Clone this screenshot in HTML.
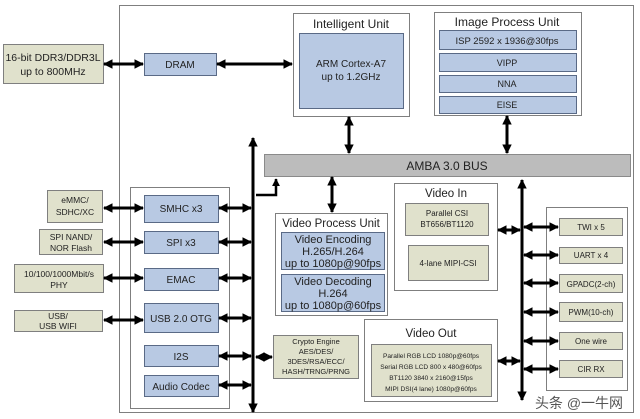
<!DOCTYPE html>
<html><head><meta charset="utf-8"><style>
html,body{margin:0;padding:0;background:#fff;}
svg{display:block;font-family:"Liberation Sans","Noto Sans CJK SC",sans-serif;}
</style></head><body>
<svg width="640" height="419" viewBox="0 0 640 419" xmlns="http://www.w3.org/2000/svg">
<defs>
<marker id="a" viewBox="0 0 10 10" refX="9" refY="5" markerWidth="3.2" markerHeight="3.2" orient="auto-start-reverse"><path d="M0,0L10,5L0,10z" fill="#000"/></marker>
</defs>
<g stroke="#7f7f7f" stroke-width="1" fill="#fff">
<rect x="119.5" y="5.5" width="514" height="407" />
<rect x="293.5" y="13.5" width="116" height="103"/>
<rect x="434.5" y="12.5" width="147" height="103"/>
<rect x="130.5" y="187.5" width="99" height="221"/>
<rect x="275.5" y="213.5" width="112" height="102"/>
<rect x="394.5" y="183.5" width="103" height="107"/>
<rect x="364.5" y="319.5" width="133" height="82"/>
<rect x="546.5" y="207.5" width="81" height="183"/>
</g>
<g stroke="#5a6a86" stroke-width="1" fill="#b8c9e3">
<rect x="144.5" y="53.5" width="72" height="22"/>
<rect x="299.5" y="33.5" width="104" height="75"/>
<rect x="439.5" y="30.5" width="137" height="19"/>
<rect x="439.5" y="53.5" width="137" height="18"/>
<rect x="439.5" y="75.5" width="137" height="17"/>
<rect x="439.5" y="96.5" width="137" height="17"/>
<rect x="144.5" y="195.5" width="74" height="27"/>
<rect x="144.5" y="231.5" width="74" height="22"/>
<rect x="144.5" y="268.5" width="74" height="22"/>
<rect x="144.5" y="303.5" width="74" height="29"/>
<rect x="144.5" y="345.5" width="74" height="21"/>
<rect x="144.5" y="375.5" width="74" height="21"/>
<rect x="281.5" y="232.5" width="103" height="37"/>
<rect x="281.5" y="274.5" width="103" height="37"/>
</g>
<g stroke="#7f7f7f" stroke-width="1" fill="#e0e1cc">
<rect x="3.5" y="44.5" width="100" height="39"/>
<rect x="47.5" y="190.5" width="55" height="32"/>
<rect x="39.5" y="229.5" width="63" height="25"/>
<rect x="14.5" y="264.5" width="89" height="28"/>
<rect x="14.5" y="310.5" width="88" height="21"/>
<rect x="273.5" y="335.5" width="85" height="43"/>
<rect x="405.5" y="203.5" width="83" height="32"/>
<rect x="408.5" y="245.5" width="80" height="35"/>
<rect x="371.5" y="344.5" width="120" height="52"/>
<rect x="559.5" y="218.5" width="63" height="17"/>
<rect x="559.5" y="247.5" width="63" height="16"/>
<rect x="559.5" y="274.5" width="63" height="18"/>
<rect x="559.5" y="302.5" width="63" height="19"/>
<rect x="559.5" y="332.5" width="63" height="17"/>
<rect x="559.5" y="360.5" width="63" height="17"/>
</g>
<rect x="264.5" y="154.5" width="366" height="22" fill="#bcbcbc" stroke="#8a8a8a"/>
<g stroke="#000" stroke-width="3" fill="none" marker-start="url(#a)" marker-end="url(#a)">
<line x1="104" y1="64" x2="143" y2="64"/>
<line x1="217" y1="64" x2="292" y2="64"/>
<line x1="349" y1="117" x2="349" y2="153"/>
<line x1="507" y1="116" x2="507" y2="153"/>
<line x1="253" y1="138" x2="253" y2="412"/>
<line x1="332" y1="177" x2="332" y2="212"/>
<line x1="104" y1="208" x2="143" y2="208"/>
<line x1="104" y1="242" x2="143" y2="242"/>
<line x1="104" y1="278" x2="143" y2="278"/>
<line x1="104" y1="320" x2="143" y2="320"/>
<line x1="219" y1="208" x2="251" y2="208"/>
<line x1="219" y1="242" x2="251" y2="242"/>
<line x1="219" y1="278" x2="251" y2="278"/>
<line x1="219" y1="318" x2="251" y2="318"/>
<line x1="219" y1="356" x2="251" y2="356"/>
<line x1="219" y1="385" x2="251" y2="385"/>
<line x1="256" y1="357" x2="272" y2="357"/>
<line x1="498" y1="230" x2="520" y2="230"/>
<line x1="498" y1="361" x2="520" y2="361"/>
<line x1="524" y1="227" x2="558" y2="227"/>
<line x1="524" y1="255" x2="558" y2="255"/>
<line x1="524" y1="283" x2="558" y2="283"/>
<line x1="524" y1="312" x2="558" y2="312"/>
<line x1="524" y1="341" x2="558" y2="341"/>
<line x1="524" y1="369" x2="558" y2="369"/>
</g>
<line x1="522" y1="400" x2="522" y2="180" stroke="#000" stroke-width="3" marker-start="url(#a)" marker-end="url(#a)"/>
<polyline points="256,195 276,195 276,179" stroke="#000" stroke-width="2.5" fill="none" marker-end="url(#a)"/>
<g font-size="10" fill="#222" text-anchor="middle">
<text x="53" y="61" font-size="10.5">16-bit DDR3/DDR3L</text>
<text x="53" y="75" font-size="10.5">up to 800MHz</text>
<text x="180" y="68">DRAM</text>
<text x="351" y="28" font-size="12">Intelligent Unit</text>
<text x="351" y="67">ARM Cortex-A7</text>
<text x="351" y="80">up to 1.2GHz</text>
<text x="507" y="26" font-size="12">Image Process Unit</text>
<text x="507" y="44" font-size="9.5">ISP 2592 x 1936@30fps</text>
<text x="507" y="66" font-size="9">VIPP</text>
<text x="507" y="87" font-size="9">NNA</text>
<text x="507" y="108" font-size="9">EISE</text>
<text x="447" y="170" font-size="12">AMBA 3.0 BUS</text>
<text x="75" y="203" font-size="8.5">eMMC/</text>
<text x="75" y="215" font-size="8.5">SDHC/XC</text>
<text x="71" y="240" font-size="8.5">SPI NAND/</text>
<text x="71" y="251" font-size="8.5">NOR Flash</text>
<text x="59" y="277" font-size="8.5">10/100/1000Mbit/s</text>
<text x="59" y="288" font-size="8.5">PHY</text>
<text x="58" y="319" font-size="8.5">USB/</text>
<text x="58" y="329" font-size="8.5">USB WIFI</text>
<text x="181" y="212">SMHC x3</text>
<text x="181" y="246">SPI x3</text>
<text x="181" y="283">EMAC</text>
<text x="181" y="322">USB 2.0 OTG</text>
<text x="181" y="360">I2S</text>
<text x="181" y="390">Audio Codec</text>
<text x="331" y="227" font-size="11.5">Video Process Unit</text>
<text x="333" y="243" font-size="11">Video Encoding</text>
<text x="333" y="255" font-size="11">H.265/H.264</text>
<text x="333" y="267" font-size="11">up to 1080p@90fps</text>
<text x="333" y="285" font-size="11">Video Decoding</text>
<text x="333" y="297" font-size="11">H.264</text>
<text x="333" y="309" font-size="11">up to 1080p@60fps</text>
<text x="316" y="344" font-size="7.5">Crypto Engine</text>
<text x="316" y="354" font-size="7.5">AES/DES/</text>
<text x="316" y="364" font-size="7.5">3DES/RSA/ECC/</text>
<text x="316" y="374" font-size="7.5">HASH/TRNG/PRNG</text>
<text x="446" y="197" font-size="11.5">Video In</text>
<text x="447" y="216" font-size="8">Parallel CSI</text>
<text x="447" y="227" font-size="8">BT656/BT1120</text>
<text x="448" y="266" font-size="8">4-lane MIPI-CSI</text>
<text x="431" y="337" font-size="11.5">Video Out</text>
<text x="431" y="358" font-size="6.6">Parallel RGB LCD 1080p@60fps</text>
<text x="431" y="369" font-size="6.6">Serial RGB LCD 800 x 480@60fps</text>
<text x="431" y="380" font-size="6.6">BT1120 3840 x 2160@15fps</text>
<text x="431" y="391" font-size="6.6">MIPI DSI(4 lane) 1080p@60fps</text>
<text x="591" y="230" font-size="8">TWI x 5</text>
<text x="591" y="258" font-size="8">UART x 4</text>
<text x="591" y="287" font-size="8">GPADC(2-ch)</text>
<text x="591" y="315" font-size="8">PWM(10-ch)</text>
<text x="591" y="344" font-size="8">One wire</text>
<text x="591" y="372" font-size="8">CIR RX</text>
<text x="579" y="408" font-size="14" fill="#555">头条 @一牛网</text>
</g>
</svg>
</body></html>
